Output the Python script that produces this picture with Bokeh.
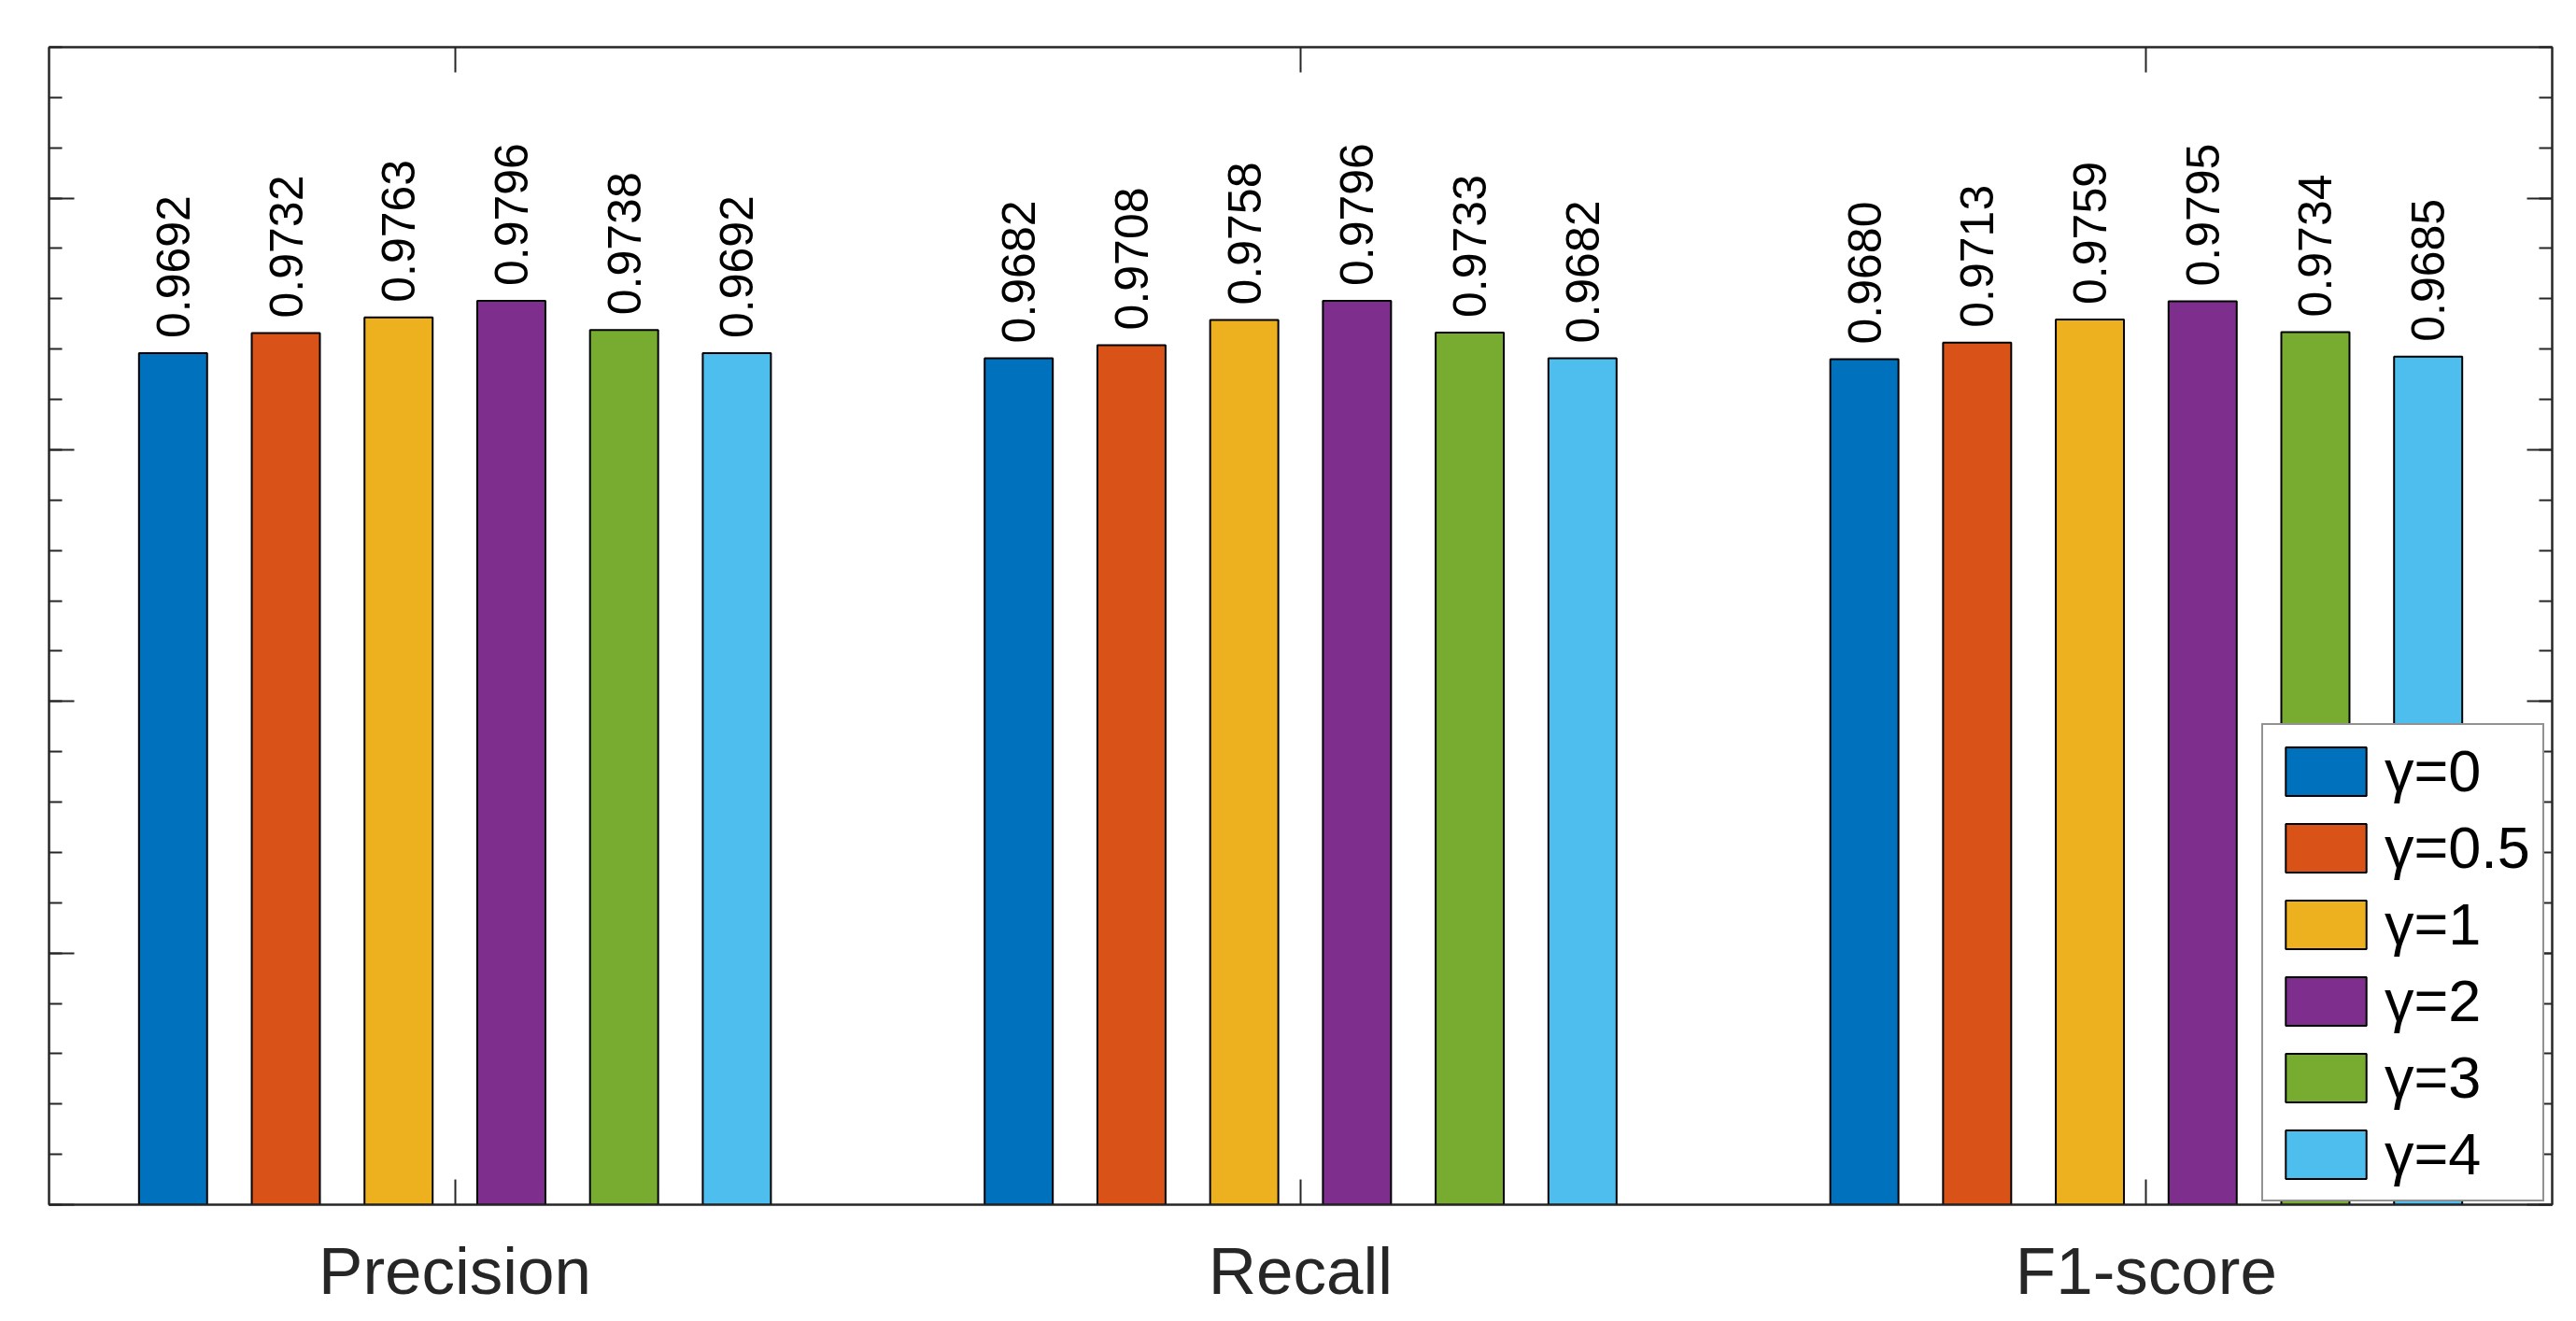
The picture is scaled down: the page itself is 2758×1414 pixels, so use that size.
import numpy as np
from bokeh.plotting import figure
from bokeh.models import (ColumnDataSource, Range1d, LinearAxis, FixedTicker, Legend, LegendItem,
                          CustomJSTickFormatter)
from bokeh.core.properties import value
from bokeh.embed import file_html
from bokeh.resources import INLINE

categories = ["Precision", "Recall", "F1-score"]
gammas = ["γ=0", "γ=0.5", "γ=1", "γ=2", "γ=3", "γ=4"]
precision = [0.9692, 0.9732, 0.9763, 0.9796, 0.9738, 0.9692]
recall = [0.9682, 0.9708, 0.9758, 0.9796, 0.9733, 0.9682]
f1_score = [0.9680, 0.9713, 0.9759, 0.9795, 0.9734, 0.9685]
colors = ["#0072BD", "#D95319", "#EDB120", "#7E2F8E", "#77AC30", "#4DBEEE"]

FONT = value("Liberation Sans")
AX = "#262626"

p = figure(width=2750, height=1406, output_backend="svg", toolbar_location=None,
           x_range=Range1d(0.52, 3.48), y_range=Range1d(0.8, 1.03),
           min_border_left=52, min_border_right=18, min_border_top=50, min_border_bottom=117,
           x_axis_type=None, y_axis_type=None)
p.grid.visible = False
p.outline_line_color = AX
p.outline_line_width = 2
p.background_fill_color = "white"

n = len(gammas)
step = 0.8 / n
bar_w = 0.0806
xc = np.arange(1, len(categories) + 1)

renderers = []
for i, g in enumerate(gammas):
    vals = [precision[i], recall[i], f1_score[i]]
    xs = xc + (i - (n - 1) / 2) * step
    src = ColumnDataSource(dict(x=xs, top=vals, lab=[f"{v:.4f}" for v in vals]))
    r = p.vbar(x="x", top="top", bottom=0, width=bar_w, source=src,
               fill_color=colors[i], line_color="black", line_width=2)
    renderers.append((g, r))
    p.text(x="x", y="top", text="lab", source=src, angle=np.pi / 2,
           text_align="left", text_baseline="middle", y_offset=-16,
           text_font=FONT, text_font_size="50px", text_color="black")

yt = FixedTicker(ticks=[0.8, 0.85, 0.9, 0.95, 1.0],
                 minor_ticks=[round(0.8 + 0.01 * k, 2) for k in range(24)])
xt = FixedTicker(ticks=list(xc), minor_ticks=[])
blank = CustomJSTickFormatter(code="return '';")

def style_axis(ax, labels=False):
    ax.axis_line_color = AX
    ax.axis_line_width = 2
    ax.major_tick_line_color = AX
    ax.major_tick_line_width = 2
    ax.minor_tick_line_color = AX
    ax.minor_tick_line_width = 2
    ax.major_tick_out = 0
    ax.minor_tick_out = 0
    ax.major_tick_in = 27
    ax.minor_tick_in = 14
    if not labels:
        ax.formatter = blank
        ax.major_label_standoff = 0

left = LinearAxis(ticker=yt)
style_axis(left)
p.add_layout(left, "left")
right = LinearAxis(ticker=yt)
style_axis(right)
p.add_layout(right, "right")

bottom = LinearAxis(ticker=xt)
style_axis(bottom, labels=True)
bottom.major_label_overrides = {int(k): c for k, c in zip(xc, categories)}
bottom.major_label_text_font = "Liberation Sans"
bottom.major_label_text_font_size = "71px"
bottom.major_label_text_color = AX
bottom.major_label_standoff = 31
bottom.minor_tick_line_color = None
p.add_layout(bottom, "below")

top = LinearAxis(ticker=xt)
style_axis(top)
top.minor_tick_line_color = None
p.add_layout(top, "above")

legend = Legend(items=[LegendItem(label=g, renderers=[r]) for g, r in renderers],
                location=(2369, 3))
legend.border_line_color = AX
legend.border_line_width = 2
legend.background_fill_color = "white"
legend.background_fill_alpha = 1
legend.glyph_width = 108
legend.glyph_height = 65
legend.padding = 13
legend.spacing = 10
legend.margin = 0
legend.label_standoff = 9
legend.label_text_font = "Liberation Sans"
legend.label_text_font_size = "63px"
legend.label_text_color = "black"
legend.label_height = 65
p.add_layout(legend)

open("out.html", "w").write(file_html(p, INLINE))
